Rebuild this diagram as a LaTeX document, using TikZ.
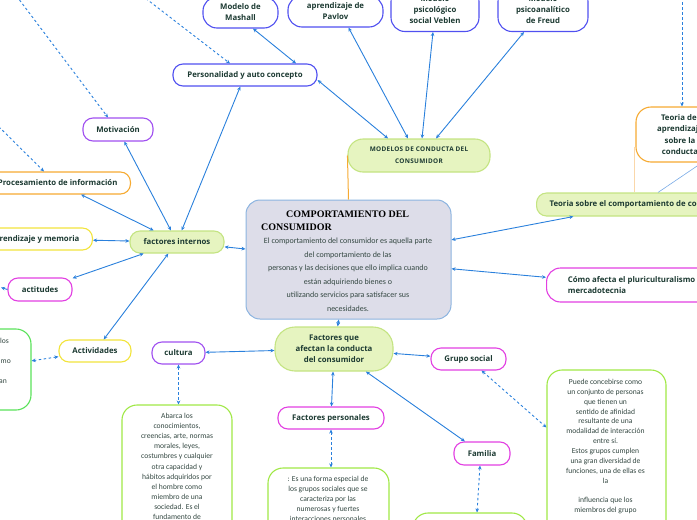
\documentclass[tikz,border=0pt]{standalone}
\usepackage{fontspec}
\newfontfamily\lblf{Open Sans}
\newfontfamily\capsf[LetterSpace=5]{Open Sans}
\newfontfamily\bodyf{Carlito}
\newfontfamily\titlef{Liberation Serif}
\usetikzlibrary{arrows.meta,calc}
\definecolor{txt}{RGB}{28,58,50}
\definecolor{btxt}{RGB}{52,72,66}
\definecolor{conn}{RGB}{42,128,220}
\definecolor{lconn}{RGB}{120,170,230}
\definecolor{cblue}{RGB}{80,80,240}
\definecolor{cpurple}{RGB}{160,80,240}
\definecolor{cmag}{RGB}{226,64,226}
\definecolor{corange}{RGB}{246,170,50}
\definecolor{porange}{RGB}{250,215,170}
\definecolor{cyellow}{RGB}{242,228,60}
\definecolor{cgreen}{RGB}{196,228,130}
\definecolor{gfill}{RGB}{230,244,192}
\definecolor{tgreen}{RGB}{160,232,70}
\definecolor{lgreen}{RGB}{90,226,90}
\definecolor{cfill}{RGB}{221,221,233}
\definecolor{cborder}{RGB}{140,180,224}
\begin{document}
\begin{tikzpicture}[x=1pt,y=-1pt,
 lbl/.style={draw, line width=1.1pt, fill=white, rounded corners=10pt, inner sep=0pt, align=center, text=txt, font=\lblf\bfseries\fontsize{7.8}{11}\selectfont},
 gbox/.style={lbl, draw=cgreen, fill=gfill},
 tbox/.style={draw, line width=1.1pt, fill=white, rounded corners=15pt, inner sep=0pt},
 tline/.style={anchor=base, inner sep=0pt, text=btxt, font=\bodyf\fontsize{7.6}{10}\selectfont},
 link/.style={draw=conn, line width=0.9pt, {Stealth[length=4pt,width=3.6pt]}-{Stealth[length=4pt,width=3.6pt]}},
 dlink/.style={link, dash pattern=on 2.5pt off 2.5pt},
]
\useasboundingbox (0,0) rectangle (697,520);
\clip (0,0) rectangle (697,520);

% top models
\node[lbl, draw=cblue, rounded corners=14pt, minimum width=75pt, minimum height=31pt] (mashall) at (240.5,12.5) {Modelo de\\Mashall};
\node[lbl, draw=cblue, rounded corners=14pt, minimum width=95pt, minimum height=31pt] (pavlov) at (335.5,11.5) {aprendizaje de\\Pavlov};
\node[lbl, draw=cblue, rounded corners=14pt, minimum width=88pt, minimum height=44pt] (veblen) at (435,9.5) {Modelo\\psicológico\\social Veblen};
\node[lbl, draw=cblue, rounded corners=14pt, minimum width=90pt, minimum height=44pt] (freud) at (543,9.5) {Modelo\\psicoanalítico\\de Freud};

\node[lbl, draw=corange, rounded corners=15pt, minimum width=88pt, minimum height=55pt, font=\lblf\bfseries\fontsize{7.8}{11.3}\selectfont] (teoriaap) at (680,134.5) {Teoria del\\aprendizaje\\sobre la\\conducta};
\node[gbox, anchor=west, inner xsep=13pt, minimum height=23pt] (teoriasobre) at (536,204.5) {Teoria sobre el comportamiento de consumo};
\node[gbox, minimum width=142pt, minimum height=33pt, rounded corners=15pt, font=\capsf\bfseries\fontsize{6.4}{12}\selectfont] (modelos) at (419,155.5) {MODELOS DE CONDUCTA DEL\\CONSUMIDOR};
\node[lbl, draw=cmag, anchor=west, align=left, inner xsep=18pt, minimum width=170pt, minimum height=34pt, rounded corners=14pt] (como) at (546,285) {Cómo afecta el pluriculturalismo\\mercadotecnia};

% central box
\node[draw=cborder, fill=cfill, line width=1pt, rounded corners=14pt, minimum width=205pt, minimum height=119pt, inner sep=0pt] (central) at (348.5,259.5) {};
\node[anchor=base west, inner sep=0pt, font=\titlef\bfseries\fontsize{10}{12}\selectfont] (title1) at (286,217.5) {COMPORTAMIENTO DEL};
\node[anchor=base west, inner sep=0pt, font=\titlef\bfseries\fontsize{10}{12}\selectfont] (title2) at (261,230.5) {CONSUMIDOR};
\foreach \t [count=\i] in {{El comportamiento del consumidor es aquella parte},{del comportamiento de las},{personas y las decisiones que ello implica cuando},{están adquiriendo bienes o},{utilizando servicios para satisfacer sus},{necesidades.}}
  \node[tline, font=\bodyf\fontsize{8}{10}\selectfont] (cb\i) at (348,{243.5+13.5*(\i-1)}) {\t};

% internal factors
\node[lbl, draw=cblue, minimum width=144pt, minimum height=22pt] (personalidad) at (245,75) {Personalidad y auto concepto};
\node[lbl, draw=cpurple, minimum width=70pt, minimum height=23pt] (motivacion) at (118,129.5) {Motivación};
\node[lbl, draw=corange, anchor=east, inner xsep=13pt, minimum height=22pt] (procesamiento) at (131,183) {Procesamiento de información};
\node[lbl, draw=cyellow, anchor=east, inner xsep=13pt, minimum height=22pt] (aprendizaje) at (93,239) {Aprendizaje y memoria};
\node[gbox, minimum width=94pt, minimum height=22pt] (factoresint) at (177,242) {factores internos};
\node[lbl, draw=cmag, minimum width=64pt, minimum height=23pt] (actitudes) at (40,289.5) {actitudes};
\node[lbl, draw=cyellow, minimum width=72pt, minimum height=22pt] (actividades) at (95,351) {Actividades};
\node[tbox, draw=lgreen, minimum width=110pt, minimum height=81pt] (leftbox) at (-24,369.5) {};
\node[tline, anchor=base east] (lf1) at (9,343.5) {los};
\node[tline, anchor=base east] (lf2) at (11,363.5) {mo};
\node[tline, anchor=base east] (lf3) at (7,383.5) {an};

% factors
\node[gbox, minimum width=118pt, minimum height=44pt, rounded corners=20pt] (factoresque) at (334,349) {Factores que\\afectan la conducta\\del consumidor};
\node[lbl, draw=cpurple, minimum width=53pt, minimum height=22pt] (cultura) at (178.5,353) {cultura};
\node[lbl, draw=cmag, minimum width=75pt, minimum height=22pt] (gruposocial) at (468.5,359) {Grupo social};
\node[lbl, draw=cmag, minimum width=106pt, minimum height=22pt] (factpers) at (331,418) {Factores personales};
\node[lbl, draw=cmag, minimum width=56pt, minimum height=23pt] (familia) at (482,453.5) {Familia};

\node[tbox, draw=tgreen, minimum width=110pt, minimum height=150pt] (cultbox) at (177,480) {};
\foreach \t [count=\i] in {Abarca los,{conocimientos,},{creencias, arte, normas},{morales, leyes,},costumbres y cualquier,otra capacidad y,hábitos adquiridos por,el hombre como,miembro de una,sociedad. Es el,fundamento de}
  \node[tline] (cu\i) at (177,{418.5+10.1*(\i-1)}) {\t};

\node[tbox, draw=tgreen, minimum width=121pt, minimum height=100pt] (fpbox) at (328.5,518) {};
\foreach \t [count=\i] in {{: Es una forma especial de},los grupos sociales que se,caracteriza por las,numerosas y fuertes,interacciones personales}
  \node[tline] (fp\i) at (328,{481.5+10*(\i-1)}) {\t};

\node[tbox, draw=tgreen, minimum width=119pt, minimum height=200pt] (grupobox) at (606.5,470) {};
\foreach \t [count=\i] in {Puede concebirse como,un conjunto de personas,que tienen un,sentido de afinidad,resultante de una,modalidad de interacción,entre sí.,Estos grupos cumplen,una gran diversidad de,{funciones, una de ellas es},la,{},influencia que los,miembros del grupo}
  \node[tline] (gs\i) at (605.5,{384.5+9.85*(\i-1)}) {\t};

\node[tbox, draw=tgreen, minimum width=114pt, minimum height=60pt] (familiabox) at (470,543) {};

% off-page ends
\coordinate (c1) at (12,-10);
\coordinate (c2) at (-10,118);
\coordinate (c3) at (140,-6);
\coordinate (c4) at (682,-5);
\coordinate (c5) at (740,137);
\coordinate (stub) at (1,287.5);

% solid connectors
\draw[link] (factoresint) -- (motivacion);
\draw[link] (factoresint) -- (personalidad);
\draw[link] (factoresint) -- (procesamiento);
\draw[link] (factoresint) -- (aprendizaje);
\draw[link] (factoresint) -- (actitudes);
\draw[link] (factoresint) -- (actividades);
\draw[link] (factoresint) -- (central);
\draw[link] ($(personalidad.east)+(0,5)$) -- ($(modelos.north)+(-31,0)$);
\draw[link] ($(personalidad.north)+(51,0)$) -- ($(mashall.south)+(12.5,0)$);
\draw[link] ($(pavlov.south)+(13,0)$) -- ($(modelos.north)+(-11,0)$);
\draw[link] ($(veblen.south)+(-2,0)$) -- ($(modelos.north)+(3,0)$);
\draw[link] ($(freud.south)+(-19,0)$) -- ($(modelos.north)+(17,0)$);
\draw[link] (central) -- (teoriasobre);
\draw[link] (central) -- (como);
\draw[link] (central) -- (factoresque);
\draw[link] (factoresque) -- (cultura);
\draw[link] (factoresque) -- (gruposocial);
\draw[link] (factoresque) -- (factpers);
\draw[link] (factoresque) -- (familia);
\draw[draw=conn, line width=0.9pt, -{Stealth[length=4pt,width=3.6pt]}] (actitudes.west) -- (stub);
\draw[draw=lconn, line width=0.6pt] ($(teoriasobre.north west)+(122,0)$) -- (c5);
\draw[draw=corange, line width=1pt] (modelos.west) -- (central.north);
\draw[draw=porange, line width=1pt] ($(teoriaap.west)+(-1,12)$) -- ($(teoriaap.west |- teoriasobre.north)+(-1,0)$);

% dashed connectors
\draw[dlink] (c1) -- ($(motivacion.north)+(-10,0)$);
\draw[dlink] (c2) -- ($(procesamiento.north east)+(-87,0)$);
\draw[dlink] (c3) -- ($(personalidad.north)+(-15,0)$);
\draw[dlink] (c4) -- ($(teoriaap.north)+(2,0)$);
\draw[dlink] (cultura.south) -- (cultura.south |- cultbox.north);
\draw[dlink] (actividades) -- (leftbox);
\draw[dlink] (factpers.south) -- (factpers.south |- fpbox.north);
\draw[dlink] ($(gruposocial.south)+(13,0)$) -- ($(grupobox.north west)+(0,58)$);
\draw[dlink] ($(familia.south)+(-2,0)$) -- ($(familiabox.north)+(7,0)$);
\end{tikzpicture}
\end{document}
